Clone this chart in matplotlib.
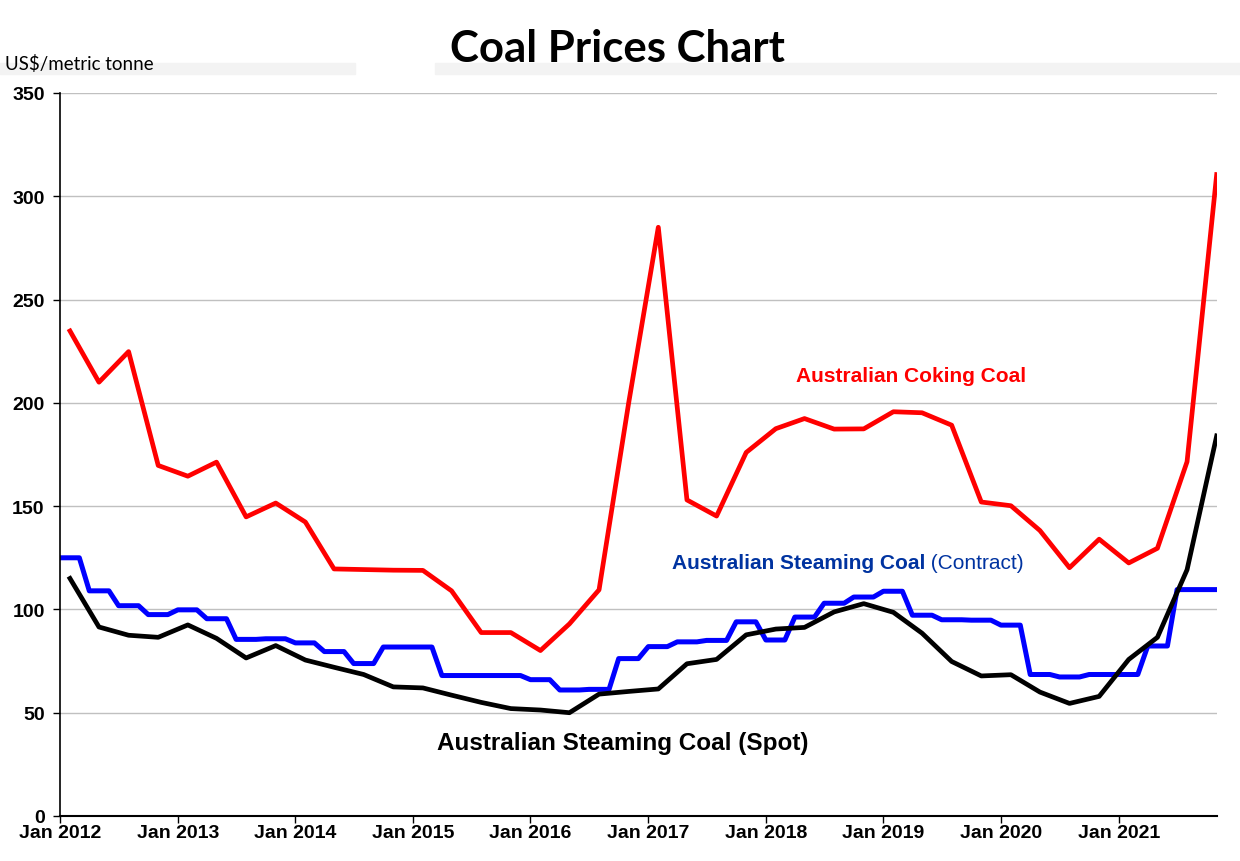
import numpy as np
import pandas as pd
import matplotlib
matplotlib.use('Agg')
import matplotlib.pyplot as plt
import matplotlib.dates as mdates
from matplotlib.patches import Rectangle

plt.rcParams['font.family'] = ['Liberation Sans', 'DejaVu Sans']

# quarterly prices (Feb, May, Aug, Nov), Feb 2012 - Nov 2021
quarter_dates = pd.date_range('2012-02-01', periods=40, freq='3MS')
coking = [234.8, 210, 224.8, 169.7, 164.5, 171.3, 144.8, 151.5, 142.3, 119.6,
          119.3, 119, 118.9, 109, 88.8, 88.8, 80.1, 93, 109.5, 200,
          285, 153, 145.2, 176, 187.5, 192.4, 187.3, 187.4, 195.7, 195.2,
          189.2, 152, 150.2, 138.2, 120.2, 134, 122.5, 129.6, 171.5, 310.5]
spot = [115, 91.5, 87.5, 86.5, 92.5, 86, 76.5, 82.5, 75.5, 72,
        68.5, 62.5, 62, 58.5, 55, 52, 51.3, 50, 59, 60.3,
        61.5, 73.7, 75.8, 87.7, 90.5, 91.3, 98.8, 102.8, 98.6, 88.5,
        74.8, 67.8, 68.4, 60, 54.5, 57.9, 75.8, 86.5, 119.2, 184]

# contract price, monthly Jan 2012 - Nov 2021
month_dates = pd.date_range('2012-01-01', periods=119, freq='MS')
contract = [125, 125, 125, 109, 109, 109, 101.8, 101.8, 101.8, 97.5, 97.5, 97.5,
            99.8, 99.8, 99.8, 95.5, 95.5, 95.5, 85.5, 85.5, 85.5, 85.8, 85.8, 85.8,
            83.8, 83.8, 83.8, 79.6, 79.6, 79.6, 73.8, 73.8, 73.8, 81.8, 81.8, 81.8,
            81.8, 81.8, 81.8, 68, 68, 68, 68, 68, 68, 68, 68, 68,
            66, 66, 66, 61, 61, 61, 61.3, 61.3, 61.3, 76.2, 76.2, 76.2,
            82, 82, 82, 84.3, 84.3, 84.3, 85, 85, 85, 94, 94, 94,
            85.2, 85.2, 85.2, 96.3, 96.3, 96.3, 103, 103, 103, 106, 106, 106,
            108.8, 108.8, 108.8, 97.2, 97.2, 97.2, 95, 95, 95, 94.8, 94.8, 94.8,
            92.4, 92.4, 92.4, 68.5, 68.5, 68.5, 67.3, 67.3, 67.3, 68.5, 68.5, 68.5,
            68.5, 68.5, 68.5, 82.3, 82.3, 82.3, 109.6, 109.6, 109.6, 109.6, 109.6]

year_ticks = pd.date_range('2012-01-01', '2021-01-01', freq='YS')
y_ticks = [0, 50, 100, 150, 200, 250, 300, 350]

fig = plt.figure(figsize=(12.4, 8.62), dpi=100)

# light grey band behind the title
fig.patches.append(Rectangle((0, 1 - 75 / 862), 355 / 1240, 11 / 862,
                             transform=fig.transFigure, color='#f3f3f3', zorder=0))
fig.patches.append(Rectangle((435 / 1240, 1 - 75 / 862), 805 / 1240, 11 / 862,
                             transform=fig.transFigure, color='#f3f3f3', zorder=0))

ax = fig.add_axes([60 / 1240, 1 - 817 / 862, 1157 / 1240, 723 / 862])

ax.plot(month_dates, contract, color='#0000ff', lw=3.6)
ax.plot(quarter_dates, coking, color='#ff0000', lw=3.4)
ax.plot(quarter_dates, spot, color='black', lw=3.4)

ax.set_ylim(0, 350)
ax.set_xlim(pd.Timestamp('2012-01-01'), pd.Timestamp('2021-11-02'))
ax.set_yticks(y_ticks)
ax.set_xticks(year_ticks)
ax.xaxis.set_major_formatter(mdates.DateFormatter('Jan %Y'))
ax.yaxis.grid(True, color='#c0c0c0', lw=1)
ax.set_axisbelow(True)

for s in ['top', 'right']:
    ax.spines[s].set_visible(False)
ax.spines['left'].set_linewidth(1.2)
ax.spines['bottom'].set_linewidth(1.5)
ax.tick_params(axis='both', direction='out', length=5, width=1, color='black')
ax.tick_params(axis='x', labelsize=14, pad=1)
ax.tick_params(axis='y', labelsize=14, pad=6)
for lab in ax.get_xticklabels() + ax.get_yticklabels():
    lab.set_fontweight('bold')

# series labels
ax.text(0.736, 0.609, 'Australian Coking Coal', transform=ax.transAxes,
        color='#ff0000', fontsize=15, fontweight='bold', ha='center', va='center')
t = ax.text(0.529, 0.35, 'Australian Steaming Coal', transform=ax.transAxes,
            color='#0033a0', fontsize=15, fontweight='bold', ha='left', va='center')
ax.annotate(' (Contract)', xy=(1, 0), xycoords=t, color='#0033a0', fontsize=15,
            ha='left', va='bottom')
ax.text(0.486, 0.101, 'Australian Steaming Coal (Spot)', transform=ax.transAxes,
        color='black', fontsize=17.5, fontweight='bold', ha='center', va='center')

fig.text(0.498, 1 - 62 / 862, 'Coal Prices Chart', fontsize=31.5, fontweight='bold',
         family=['Lato', 'DejaVu Sans'], ha='center', va='baseline')
fig.text(5 / 1240, 1 - 70 / 862, 'US$/metric tonne', fontsize=13.5,
         family=['Lato', 'DejaVu Sans'], ha='left', va='baseline')

fig.savefig('out.png', dpi=100)
